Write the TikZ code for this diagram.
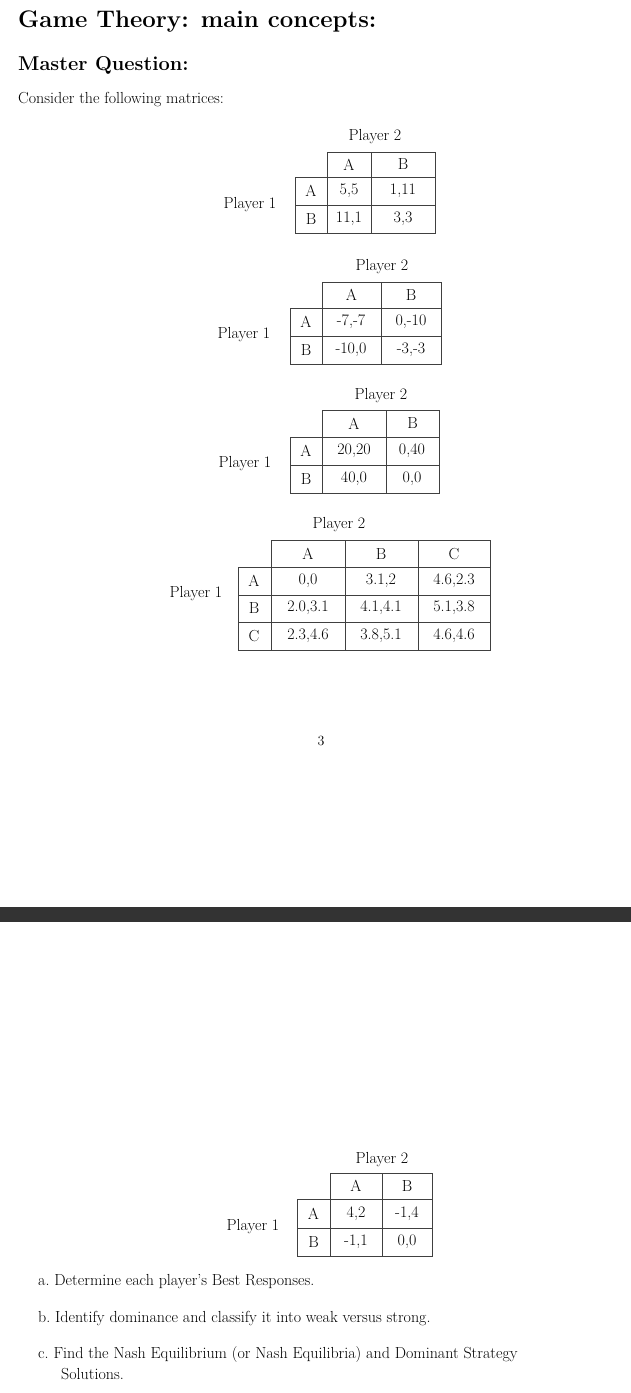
\documentclass[tikz,border=0pt]{standalone}
\begin{document}
\begin{tikzpicture}[x=1pt,y=-1pt,
  txt/.style={inner sep=0pt,font=\fontsize{16}{19}\selectfont},
  grid/.style={draw=black!75,line width=0.8pt}]
\useasboundingbox (0,0) rectangle (631,1393);
\node[txt,anchor=west,font=\fontsize{24}{28}\selectfont\bfseries] (title) at (18,22) {Game Theory: main concepts:};
\node[txt,anchor=west,font=\fontsize{20}{24}\selectfont\bfseries] (mq) at (18,65) {Master Question:};
\node[txt,anchor=west] (cons) at (18,100) {Consider the following matrices:};
% generic 2x2 table: #1 lx,#2 c1,#3 c2,#4 c3,#5 y0,#6 y1,#7 y2,#8 y3
\newcommand\twotab[9]{%
 \draw[grid] (#2,#5) rectangle (#4,#6);
 \draw[grid] (#3,#5) -- (#3,#8);
 \draw[grid] (#1,#6) rectangle (#4,#8);
 \draw[grid] (#2,#6) -- (#2,#8);
 \draw[grid] (#1,#7) -- (#4,#7);
 \node[txt] (#9ha) at ({(#2+#3)/2},{(#5+#6)/2}) {A};
 \node[txt] (#9hb) at ({(#3+#4)/2},{(#5+#6)/2}) {B};
 \node[txt] (#9ra) at ({(#1+#2)/2},{(#6+#7)/2}) {A};
 \node[txt] (#9rb) at ({(#1+#2)/2},{(#7+#8)/2}) {B};}
\newcommand\cell[4]{\node[txt] (#1) at (#2,#3) {#4};}
% T1
\twotab{295}{327}{371}{435}{152}{177}{205}{233}{t1}
\node[txt] (t1p2) at (375,137) {Player 2};
\node[txt] (t1p1) at (250,205) {Player 1};
\cell{t1aa}{349}{191}{5,5}\cell{t1ab}{403}{191}{1,11}
\cell{t1ba}{349}{219}{11,1}\cell{t1bb}{403}{219}{3,3}
% T2
\twotab{290}{322}{381}{441}{282}{308}{336}{364}{t2}
\node[txt] (t2p2) at (382,267) {Player 2};
\node[txt] (t2p1) at (244,335) {Player 1};
\cell{t2aa}{351}{322}{-7,-7}\cell{t2ab}{411}{322}{0,-10}
\cell{t2ba}{351}{350}{-10,0}\cell{t2bb}{411}{350}{-3,-3}
% T3
\twotab{290}{322}{386}{439}{410}{437}{465}{493}{t3}
\node[txt] (t3p2) at (381,396) {Player 2};
\node[txt] (t3p1) at (245,464) {Player 1};
\cell{t3aa}{354}{451}{20,20}\cell{t3ab}{412}{451}{0,40}
\cell{t3ba}{354}{479}{40,0}\cell{t3bb}{412}{479}{0,0}
% T4
\draw[grid] (271,540) rectangle (490,567);
\draw[grid] (238,567) rectangle (490,650);
\draw[grid] (271,567) -- (271,650);
\draw[grid] (345,540) -- (345,650);
\draw[grid] (418,540) -- (418,650);
\draw[grid] (238,595) -- (490,595);
\draw[grid] (238,622) -- (490,622);
\node[txt] (t4p2) at (339,525) {Player 2};
\node[txt] (t4p1) at (196,594) {Player 1};
\cell{t4ha}{308}{554}{A}\cell{t4hb}{381}{554}{B}\cell{t4hc}{454}{554}{C}
\cell{t4ra}{254}{581}{A}\cell{t4rb}{254}{608}{B}\cell{t4rc}{254}{636}{C}
\cell{t4aa}{308}{581}{0,0}\cell{t4ab}{381}{581}{3.1,2}\cell{t4ac}{454}{581}{4.6,2.3}
\cell{t4ba}{308}{608}{2.0,3.1}\cell{t4bb}{381}{608}{4.1,4.1}\cell{t4bc}{454}{608}{5.1,3.8}
\cell{t4ca}{308}{636}{2.3,4.6}\cell{t4cb}{381}{636}{3.8,5.1}\cell{t4cc}{454}{636}{4.6,4.6}
\node[txt,font=\fontsize{14}{16}\selectfont] (pg) at (321,741) {3};
% page break bar
\fill[black!80] (0,907) rectangle (631,922);
% T5
\twotab{297}{330}{382}{432}{1173}{1199}{1228}{1256}{t5}
\node[txt] (t5p2) at (382,1160) {Player 2};
\node[txt] (t5p1) at (253,1227) {Player 1};
\cell{t5aa}{356}{1214}{4,2}\cell{t5ab}{407}{1214}{-1,4}
\cell{t5ba}{356}{1242}{-1,1}\cell{t5bb}{407}{1242}{0,0}
\node[txt,anchor=west] (qa) at (38,1282) {a.\ Determine each player's Best Responses.};
\node[txt,anchor=west] (qb) at (38,1318) {b.\ Identify dominance and classify it into weak versus strong.};
\node[txt,anchor=west] (qc) at (38,1354) {c.\ Find the Nash Equilibrium (or Nash Equilibria) and Dominant Strategy};
\node[txt,anchor=west] (qc2) at (61,1374) {Solutions.};
\end{tikzpicture}
\end{document}
